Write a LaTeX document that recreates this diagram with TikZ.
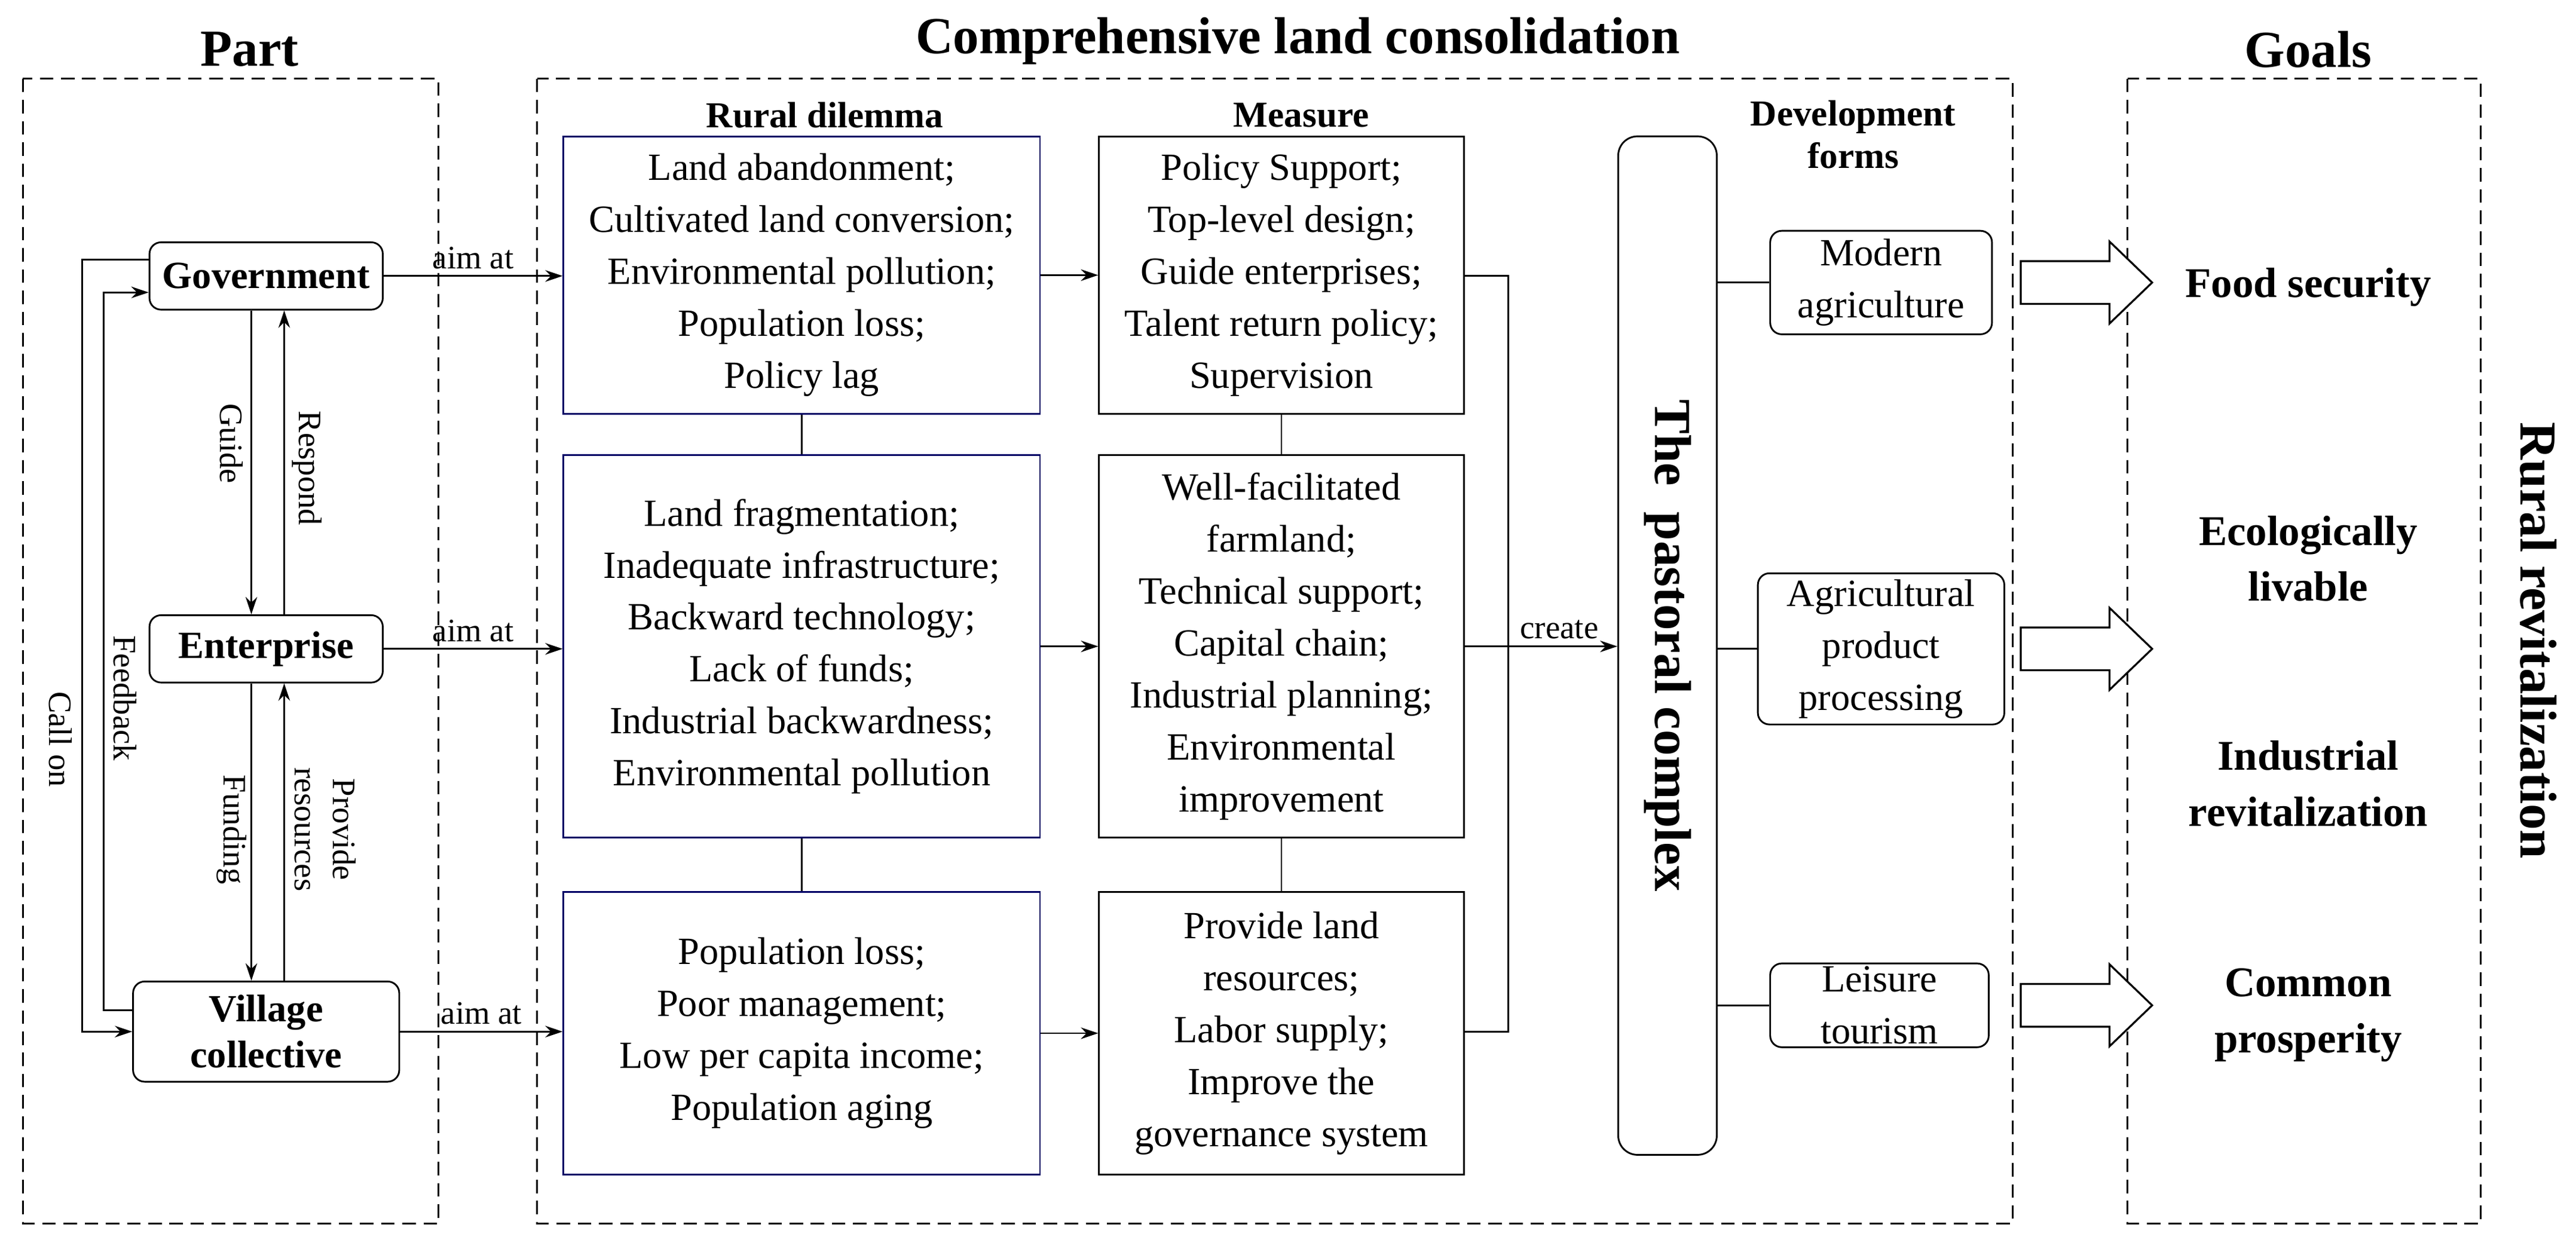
\documentclass[tikz,border=0pt]{standalone}
\usepackage{fontspec}
\setmainfont{Liberation Serif}
\usetikzlibrary{arrows.meta}
\begin{document}
\begin{tikzpicture}[x=0.03cm,y=-0.03cm,
  txt/.style={font=\fontsize{20}{27}\selectfont,align=center},
  dbox/.style={draw=blue!40!black,line width=0.9pt,txt,inner sep=0pt},
  mbox/.style={draw,line width=0.9pt,txt,inner sep=0pt},
  rbox/.style={draw,rounded corners=6pt,line width=0.9pt,txt,inner sep=0pt},
  dashframe/.style={draw,dash pattern=on 7pt off 4pt,line width=0.9pt},
  hd/.style={font=\bfseries\fontsize{19}{22}\selectfont,align=center},
  ttl/.style={font=\bfseries\fontsize{27}{30}\selectfont},
  goal/.style={font=\bfseries\fontsize{22}{29}\selectfont,align=center},
  arr/.style={-{Stealth[length=9pt,width=6pt]},line width=0.9pt},
  ln/.style={line width=0.9pt},
  lbl/.style={font=\fontsize{17}{20}\selectfont,align=center},
  big/.style={draw,line width=1pt,fill=white}]
\useasboundingbox (0,0) rectangle (1568,762);
\draw[dashframe] (14,48) rectangle (267,745);
\draw[dashframe] (327,48) rectangle (1225,745);
\draw[dashframe] (1295,48) rectangle (1510,745);
\node[ttl] (tp) at (152,30) {Part};
\node[ttl] (tc) at (790,25) {Comprehensive land consolidation};
\node[ttl] (tg) at (1405,30) {Goals};
\node[ttl,rotate=-90] (rr) at (1545,390) {Rural revitalization};
% left
\node[rbox,minimum width=4.26cm,minimum height=1.23cm,font=\bfseries\fontsize{20}{24}\selectfont] (gov) at (162,168) {Government};
\node[rbox,minimum width=4.26cm,minimum height=1.23cm,font=\bfseries\fontsize{20}{24}\selectfont] (ent) at (162,395) {Enterprise};
\node[rbox,minimum width=4.86cm,minimum height=1.83cm,font=\bfseries\fontsize{20}{24}\selectfont] (vil) at (162,628) {Village\\collective};
\draw[arr] (gov.south -| 153,0) -- (ent.north -| 153,0);
\draw[arr] (ent.north -| 173,0) -- (gov.south -| 173,0);
\draw[arr] (ent.south -| 153,0) -- (vil.north -| 153,0);
\draw[arr] (vil.north -| 173,0) -- (ent.south -| 173,0);
\node[lbl,rotate=-90] (lg) at (141,270) {Guide};
\node[lbl,rotate=-90] (lr) at (187,285) {Respond};
\node[lbl,rotate=-90] (lf) at (141,505) {Funding};
\node[lbl,rotate=-90] (lp) at (198,505) {Provide\\resources};
\coordinate (c1) at (50,158); \coordinate (c2) at (50,628);
\draw[arr] (gov.west |- c1) -- (c1) -- (c2) -- (vil.west |- c2);
\coordinate (f1) at (63,615); \coordinate (f2) at (63,178);
\draw[arr] (vil.west |- f1) -- (f1) -- (f2) -- (gov.west |- f2);
\node[lbl,rotate=-90] (lc) at (37,450) {Call on};
\node[lbl,rotate=-90] (lfb) at (76,425) {Feedback};
% dilemma
\node[hd] (hrd) at (502,70) {Rural dilemma};
\node[hd] (hm) at (792,70) {Measure};
\node[hd] (hdf) at (1128,82) {Development\\forms};
\node[dbox,minimum width=8.7cm,minimum height=5.07cm] (d1) at (488,167.5) {Land abandonment;\\Cultivated land conversion;\\Environmental pollution;\\Population loss;\\Policy lag};
\node[dbox,minimum width=8.7cm,minimum height=6.99cm] (d2) at (488,393.5) {Land fragmentation;\\Inadequate infrastructure;\\Backward technology;\\Lack of funds;\\Industrial backwardness;\\Environmental pollution};
\node[dbox,minimum width=8.7cm,minimum height=5.16cm] (d3) at (488,629) {Population loss;\\Poor management;\\Low per capita income;\\Population aging};
\node[mbox,minimum width=6.66cm,minimum height=5.07cm] (m1) at (780,167.5) {Policy Support;\\Top-level design;\\Guide enterprises;\\Talent return policy;\\Supervision};
\node[mbox,minimum width=6.66cm,minimum height=6.99cm] (m2) at (780,393.5) {Well-facilitated\\farmland;\\Technical support;\\Capital chain;\\Industrial planning;\\Environmental\\improvement};
\node[mbox,minimum width=6.66cm,minimum height=5.16cm] (m3) at (780,629) {Provide land\\resources;\\Labor supply;\\Improve the\\governance system};
\draw[ln] (d1) -- (d2); \draw[ln] (d2) -- (d3);
\draw[ln] (m1) -- (m2); \draw[ln] (m2) -- (m3);
\draw[arr] (gov.east) -- (gov.east -| d1.west) node[midway,above,lbl] {aim at};
\draw[arr] (ent.east) -- (ent.east -| d2.west) node[midway,above,lbl] {aim at};
\draw[arr] (vil.east) -- (vil.east -| d3.west) node[midway,above,lbl] {aim at};
\draw[arr] (d1.east) -- (m1.west);
\draw[arr] (d2.east) -- (m2.west);
\draw[arr] (d3.east) -- (m3.west);
\node[rbox,minimum width=1.8cm,minimum height=18.6cm,rounded corners=10pt] (pc) at (1015,393) {};
\node[rotate=-90,font=\bfseries\fontsize{27}{30}\selectfont] (pct) at (1015,393) {The\ \ pastoral complex};
\coordinate (b1) at (918,168); \coordinate (b2) at (918,628);
\draw[ln] (m1.east |- b1) -- (b1) -- (b2) -- (m3.east |- b2);
\draw[arr] (m2.east) -- (pc.west |- m2.east) node[pos=0.62,above,lbl] {create};
\node[rbox,minimum width=4.05cm,minimum height=1.89cm] (fa) at (1145,172) {Modern\\agriculture};
\node[rbox,minimum width=4.5cm,minimum height=2.76cm] (fb) at (1145,395) {Agricultural\\product\\processing};
\node[rbox,minimum width=3.99cm,minimum height=1.53cm] (fc) at (1144,612) {Leisure\\tourism};
\draw[ln] (pc.east |- fa) -- (fa);
\draw[ln] (pc.east |- fb) -- (fb);
\draw[ln] (pc.east |- fc) -- (fc);
\foreach \yy in {172,395,612}{
  \draw[big] (1230,\yy-13) -- (1284,\yy-13) -- (1284,\yy-25) -- (1310,\yy) -- (1284,\yy+25) -- (1284,\yy+13) -- (1230,\yy+13) -- cycle;
}
\node[goal] (g1) at (1405,175) {Food security};
\node[goal] (g2) at (1405,340) {Ecologically\\livable};
\node[goal] (g3) at (1405,477) {Industrial\\revitalization};
\node[goal] (g4) at (1405,618) {Common\\prosperity};
\end{tikzpicture}
\end{document}
